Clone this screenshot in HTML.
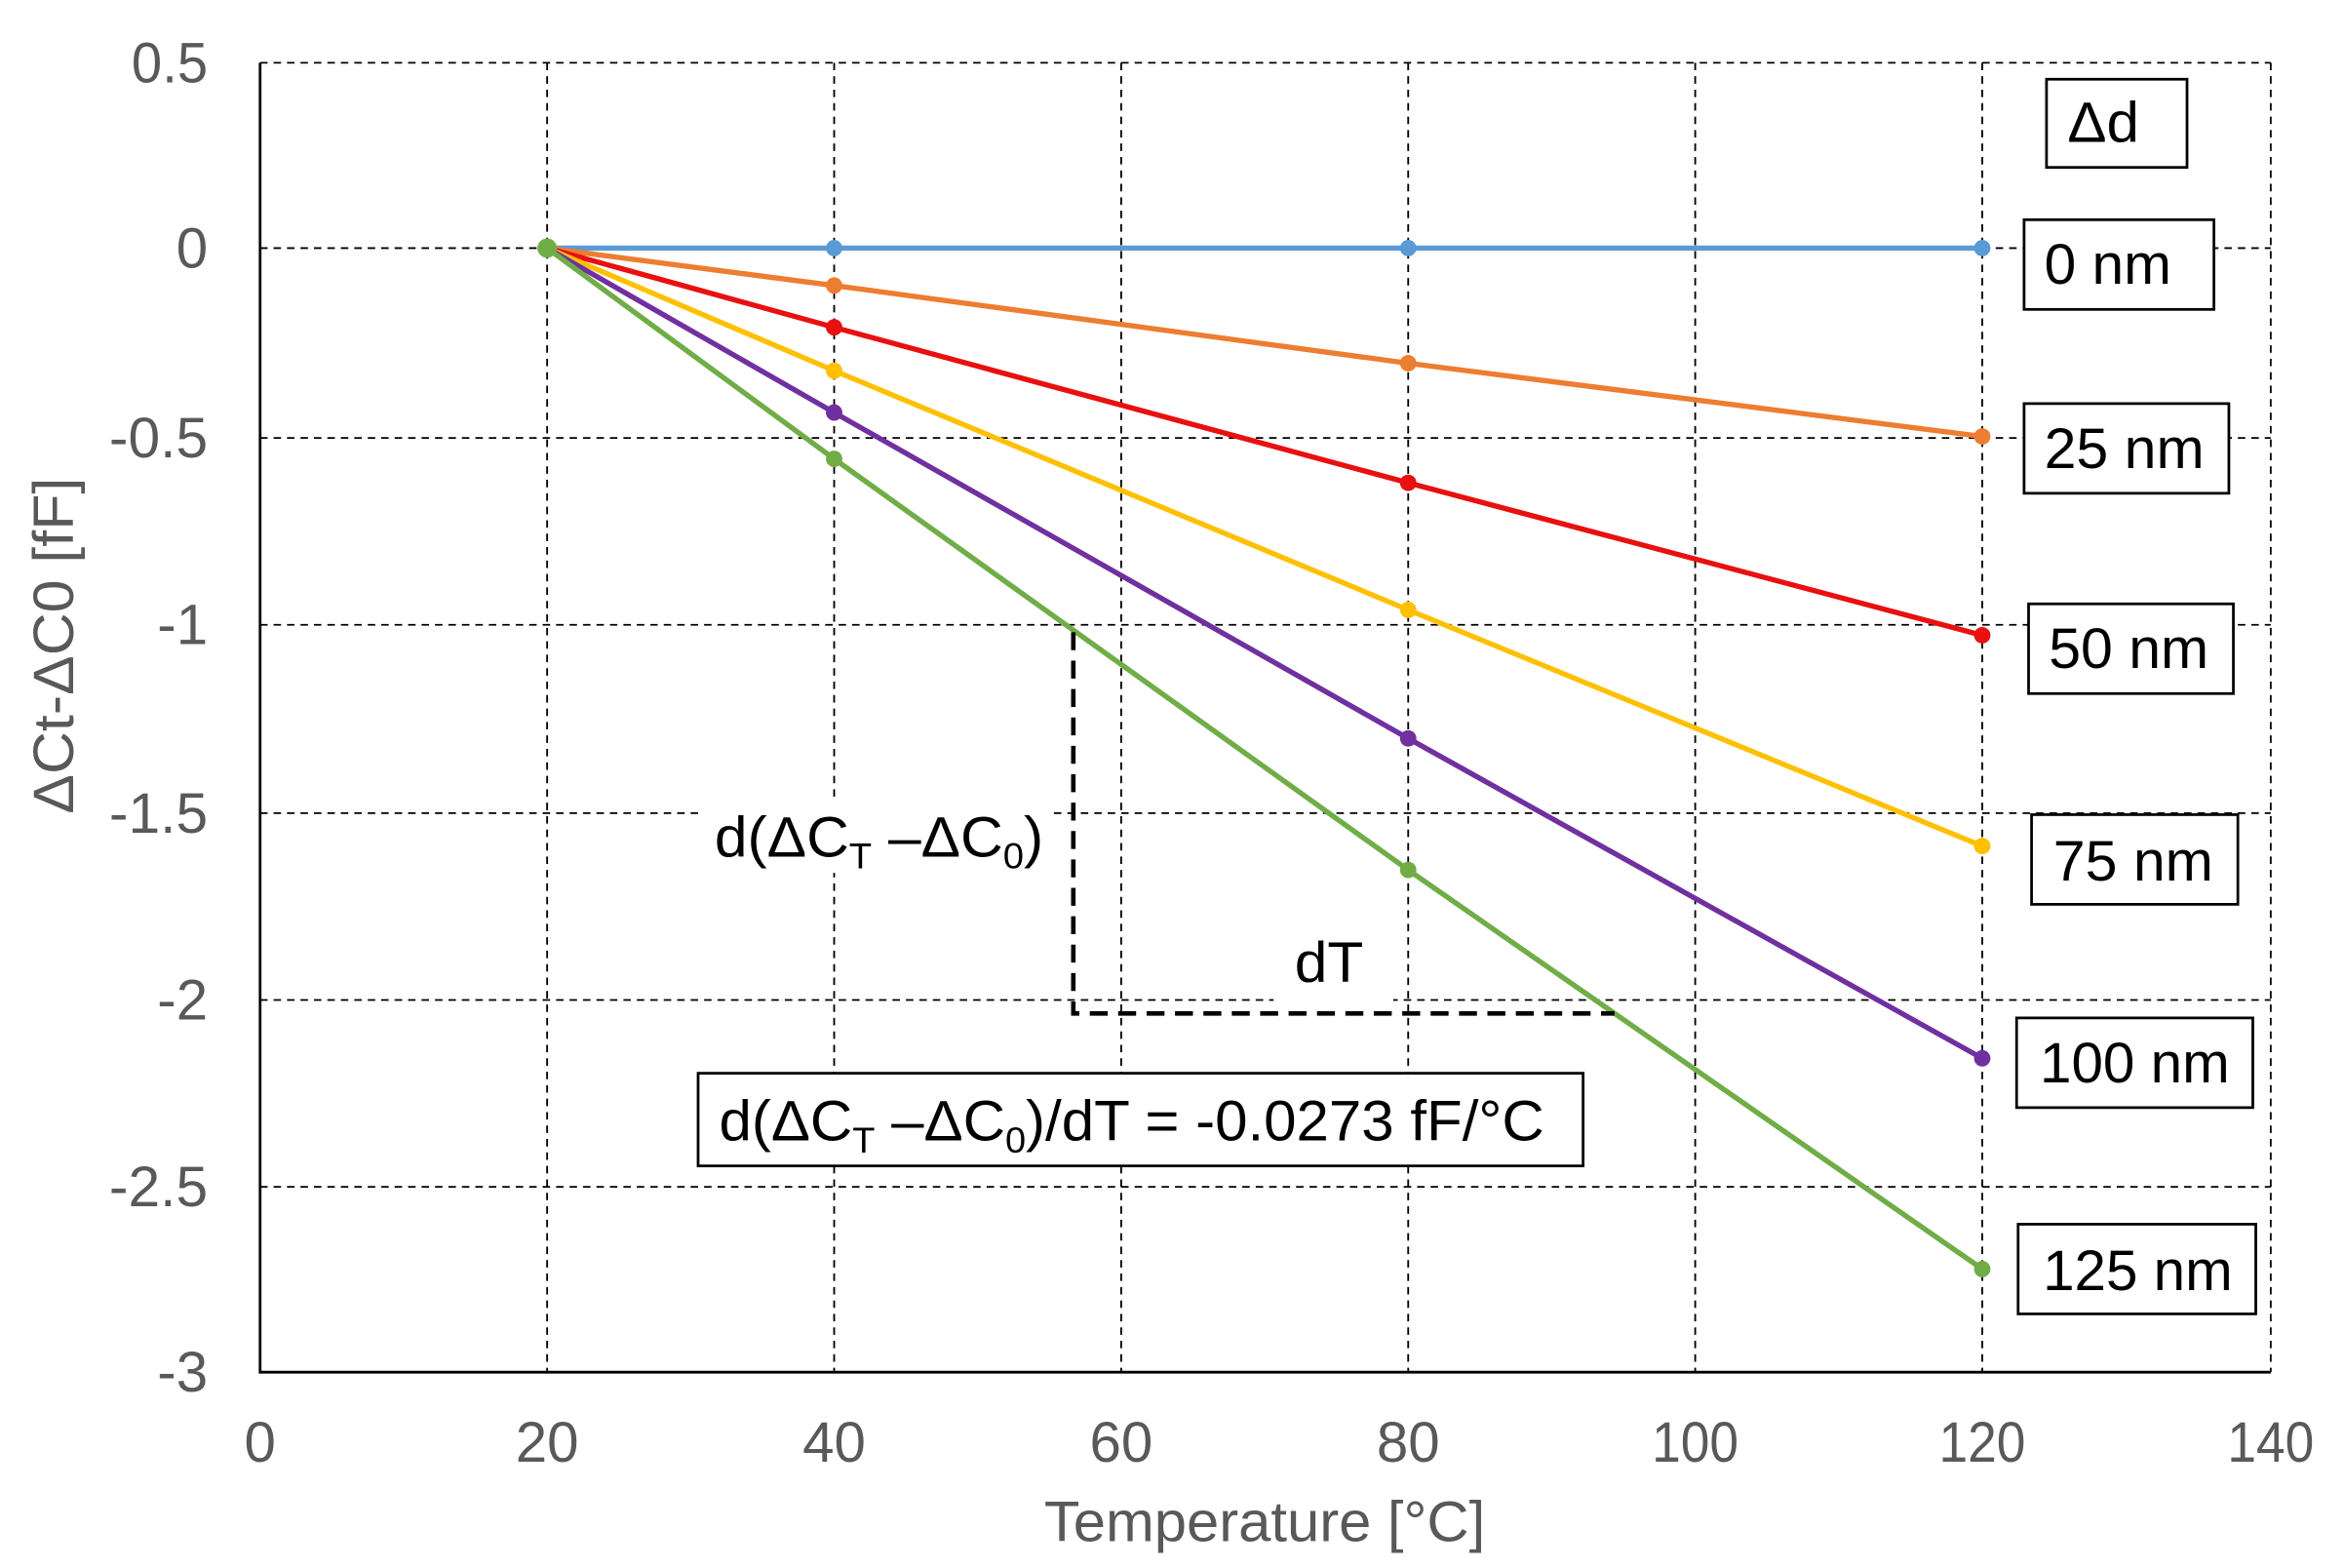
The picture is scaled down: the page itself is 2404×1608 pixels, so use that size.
<!DOCTYPE html>
<html><head><meta charset="utf-8"><style>html,body{margin:0;padding:0;background:#fff}svg{display:block}</style></head>
<body>
<svg width="2404" height="1608" viewBox="0 0 1568 1049" preserveAspectRatio="none" xmlns="http://www.w3.org/2000/svg" font-family="Liberation Sans, Arial, sans-serif">
<rect width="1568" height="1049" fill="#fff"/>
<g stroke="#000" stroke-width="1.2" stroke-dasharray="5,4" fill="none">
<line x1="174" y1="42" x2="1519" y2="42"/>
<line x1="174" y1="166" x2="1519" y2="166"/>
<line x1="174" y1="293" x2="1519" y2="293"/>
<line x1="174" y1="418" x2="1519" y2="418"/>
<line x1="174" y1="544" x2="1519" y2="544"/>
<line x1="174" y1="669" x2="1519" y2="669"/>
<line x1="174" y1="794" x2="1519" y2="794"/>
<line x1="366" y1="42" x2="366" y2="918"/>
<line x1="558" y1="42" x2="558" y2="918"/>
<line x1="750" y1="42" x2="750" y2="918"/>
<line x1="942" y1="42" x2="942" y2="918"/>
<line x1="1134" y1="42" x2="1134" y2="918"/>
<line x1="1326" y1="42" x2="1326" y2="918"/>
<line x1="1519" y1="42" x2="1519" y2="918"/>
</g>
<path d="M174 42 V918 H1519" stroke="#000" stroke-width="1.8" fill="none"/>
<g fill="#595959" font-size="38" text-anchor="end">
<text x="139" y="55" textLength="51" lengthAdjust="spacingAndGlyphs">0.5</text>
<text x="139" y="179">0</text>
<text x="139" y="306" textLength="66" lengthAdjust="spacingAndGlyphs">-0.5</text>
<text x="139" y="431">-1</text>
<text x="139" y="557" textLength="66" lengthAdjust="spacingAndGlyphs">-1.5</text>
<text x="139" y="682">-2</text>
<text x="139" y="807" textLength="66" lengthAdjust="spacingAndGlyphs">-2.5</text>
<text x="139" y="931">-3</text>
</g>
<g fill="#595959" font-size="38" text-anchor="middle">
<text x="174" y="978">0</text><text x="366" y="978">20</text><text x="558" y="978">40</text>
<text x="750" y="978">60</text><text x="942" y="978">80</text>
<text x="1134" y="978" textLength="58" lengthAdjust="spacingAndGlyphs">100</text>
<text x="1326" y="978" textLength="58" lengthAdjust="spacingAndGlyphs">120</text>
<text x="1519" y="978" textLength="58" lengthAdjust="spacingAndGlyphs">140</text>
<text x="846" y="1031" textLength="295" lengthAdjust="spacingAndGlyphs">Temperature [°C]</text>
<text transform="translate(49,432) rotate(-90)" textLength="225" lengthAdjust="spacingAndGlyphs">ΔCt-ΔC0 [fF]</text>
</g>
<g fill="none" stroke-width="3.5">
<polyline stroke="#5b9bd5" points="366,166 558,166 942,166 1326,166"/>
<polyline stroke="#ed7d31" points="366,166 558,191 942,243 1326,292"/>
<polyline stroke="#e81010" points="366,166 558,219 942,323 1326,425"/>
<polyline stroke="#ffc000" points="366,166 558,248 942,408 1326,566"/>
<polyline stroke="#7030a0" points="366,166 558,276 942,494 1326,708"/>
<polyline stroke="#70ad47" points="366,166 558,307 942,582 1326,849"/>
</g>
<g fill="#5b9bd5"><circle cx="558" cy="166" r="5.5"/><circle cx="942" cy="166" r="5.5"/><circle cx="1326" cy="166" r="5.5"/></g>
<g fill="#ed7d31"><circle cx="558" cy="191" r="5.5"/><circle cx="942" cy="243" r="5.5"/><circle cx="1326" cy="292" r="5.5"/></g>
<g fill="#e81010"><circle cx="558" cy="219" r="5.5"/><circle cx="942" cy="323" r="5.5"/><circle cx="1326" cy="425" r="5.5"/></g>
<g fill="#ffc000"><circle cx="558" cy="248" r="5.5"/><circle cx="942" cy="408" r="5.5"/><circle cx="1326" cy="566" r="5.5"/></g>
<g fill="#7030a0"><circle cx="558" cy="276" r="5.5"/><circle cx="942" cy="494" r="5.5"/><circle cx="1326" cy="708" r="5.5"/></g>
<g fill="#70ad47"><circle cx="366" cy="166" r="6.5"/><circle cx="558" cy="307" r="5.5"/><circle cx="942" cy="582" r="5.5"/><circle cx="1326" cy="849" r="5.5"/></g>
<path d="M718 423 V678 H1080" stroke="#000" stroke-width="3" stroke-dasharray="12,7" fill="none"/>
<rect x="470" y="536" width="232" height="48" fill="#fff"/>
<text x="478" y="573" font-size="38" textLength="220" lengthAdjust="spacingAndGlyphs">d(ΔC<tspan font-size="24" dy="8">T</tspan><tspan dy="-8"> –ΔC</tspan><tspan font-size="24" dy="8">0</tspan><tspan dy="-8">)</tspan></text>
<rect x="852" y="624" width="80" height="48" fill="#fff"/>
<text x="866" y="657" font-size="38" textLength="46" lengthAdjust="spacingAndGlyphs">dT</text>
<g stroke="#000" stroke-width="1.8" fill="#fff">
<rect x="467" y="718" width="592" height="62"/>
<rect x="1369" y="53" width="94" height="59"/>
<rect x="1354" y="147" width="127" height="60"/>
<rect x="1354" y="270" width="137" height="60"/>
<rect x="1357" y="404" width="137" height="60"/>
<rect x="1359" y="545" width="138" height="60"/>
<rect x="1349" y="681" width="158" height="60"/>
<rect x="1350" y="819" width="159" height="60"/>
</g>
<text x="481" y="763" font-size="38" textLength="552" lengthAdjust="spacingAndGlyphs">d(ΔC<tspan font-size="24" dy="8">T</tspan><tspan dy="-8"> –ΔC</tspan><tspan font-size="24" dy="8">0</tspan><tspan dy="-8">)/dT = -0.0273 fF/°C</tspan></text>
<g font-size="38" text-anchor="middle" fill="#000">
<text x="1407" y="95" textLength="48" lengthAdjust="spacingAndGlyphs">Δd</text>
<text x="1410" y="190" textLength="85" lengthAdjust="spacingAndGlyphs">0 nm</text>
<text x="1421" y="313" textLength="107" lengthAdjust="spacingAndGlyphs">25 nm</text>
<text x="1424" y="447" textLength="107" lengthAdjust="spacingAndGlyphs">50 nm</text>
<text x="1427" y="589" textLength="107" lengthAdjust="spacingAndGlyphs">75 nm</text>
<text x="1428" y="724" textLength="127" lengthAdjust="spacingAndGlyphs">100 nm</text>
<text x="1430" y="863" textLength="127" lengthAdjust="spacingAndGlyphs">125 nm</text>
</g>
</svg>
</body></html>
